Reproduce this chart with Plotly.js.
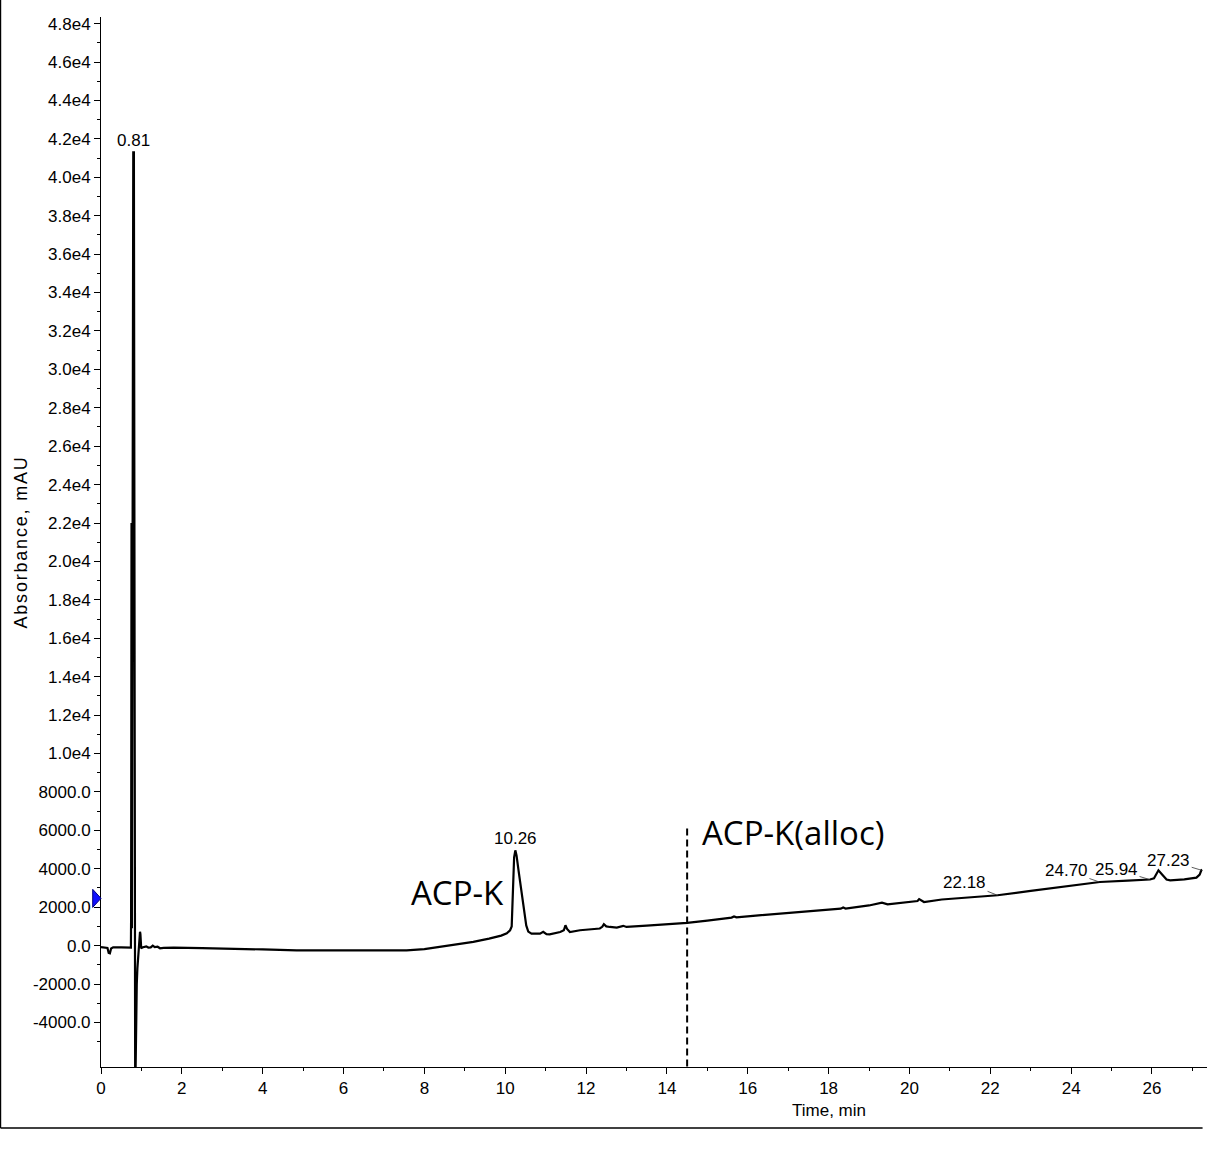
<!DOCTYPE html>
<html>
<head>
<meta charset="utf-8">
<script src="https://cdn.plot.ly/plotly-3.0.1.min.js"></script>
<style>
  html, body { margin: 0; padding: 0; background: #ffffff; }
  #chart { width: 1220px; height: 1156px; }
</style>
</head>
<body>
<div id="chart"></div>
<script>
// Retention time (min)
const timeMin = [
  0.00, 0.10, 0.16, 0.19, 0.22, 0.25, 0.30, 0.50, 0.70, 0.74,
  0.745, 0.755, 0.765, 0.775, 0.79, 0.798, 0.814, 0.818, 0.825, 0.83,
  0.84, 0.845, 0.855, 0.86, 0.865, 0.87, 0.875, 0.885, 0.90, 0.92,
  0.935, 0.95, 0.965, 0.975, 0.985, 0.995, 1.02, 1.06, 1.12, 1.17,
  1.23, 1.28, 1.33, 1.40, 1.46, 1.55, 1.80, 2.50, 3.44, 4.00,
  4.84, 6.00, 7.56, 8.00, 8.39, 8.80, 9.21, 9.60, 9.90, 10.04,
  10.12, 10.16, 10.19, 10.22, 10.25, 10.28, 10.33, 10.40, 10.47, 10.52,
  10.57, 10.65, 10.86, 10.94, 11.02, 11.10, 11.36, 11.45, 11.49, 11.53,
  11.60, 11.85, 12.34, 12.40, 12.44, 12.50, 12.59, 12.76, 12.92, 13.00,
  13.50, 14.00, 14.50, 15.00, 15.32, 15.60, 15.66, 15.72, 16.20, 16.80,
  17.50, 18.30, 18.36, 18.42, 19.00, 19.27, 19.32, 19.46, 19.80, 20.20,
  20.24, 20.36, 20.80, 21.75, 22.18, 23.00, 24.00, 24.71, 25.40, 25.95,
  26.05, 26.16, 26.25, 26.36, 26.45, 26.80, 27.10, 27.18, 27.22, 27.24
];
// Absorbance (mAU)
const absorbance = [
  -80, -90, -120, -380, -400, -150, -90, -90, -90, -100,
  1500, 22000, 900, 21500, 29700, 41300, 41300, 29500, 5000, -200,
  -3500, -6600, -6600, -4800, -3400, -4600, -3300, -2000, -1200, -400,
  -250, 200, 720, 600, 100, -150, -100, -80, -40, -100,
  -90, 0, -80, -60, -140, -120, -110, -130, -160, -200,
  -245, -255, -245, -180, -70, 60, 190, 360, 520, 640,
  800, 1000, 3000, 4600, 4960, 4700, 3900, 2800, 1700, 1050,
  730, 620, 625, 720, 600, 590, 710, 800, 1060, 870,
  710, 800, 890, 980, 1110, 1000, 970, 940, 1030, 970,
  1040, 1110, 1180, 1300, 1400, 1460, 1520, 1470, 1560, 1670,
  1800, 1920, 1980, 1930, 2090, 2200, 2240, 2150, 2230, 2320,
  2420, 2270, 2400, 2570, 2620, 2850, 3120, 3310, 3380, 3440,
  3500, 3920, 3700, 3440, 3400, 3450, 3540, 3700, 3920, 3950
];

// Peak labels (retention times) and the curve level they point at
const peakLabels = ["0.81", "10.26", "22.18", "24.70", "25.94", "27.23"];
const peakTimes  = [0.81, 10.26, 22.18, 24.70, 25.94, 27.23];
const peakLevels = [41300, 4960, 2620, 3310, 3440, 3920];

// Compound labels
const compoundNames = ["ACP-K", "ACP-K(alloc)"];
const compoundTimes = [8.81, 17.13];
const compoundLevels = [2790, 5910];

// Dashed marker for expected ACP-K(alloc) retention time
const allocTime = 14.5;
const allocTop = 6100;

// Blue cursor marker on y axis (level, half-height in mAU)
const cursorLevel = 2460;
const cursorHalf = 470;

// Y ticks
const yTickVals = [-4000, -2000, 0, 2000, 4000, 6000, 8000, 10000, 12000, 14000, 16000, 18000,
  20000, 22000, 24000, 26000, 28000, 30000, 32000, 34000, 36000, 38000, 40000, 42000, 44000, 46000, 48000];
const yTickText = ["-4000.0", "-2000.0", "0.0", "2000.0", "4000.0", "6000.0", "8000.0", "1.0e4", "1.2e4",
  "1.4e4", "1.6e4", "1.8e4", "2.0e4", "2.2e4", "2.4e4", "2.6e4", "2.8e4", "3.0e4", "3.2e4", "3.4e4",
  "3.6e4", "3.8e4", "4.0e4", "4.2e4", "4.4e4", "4.6e4", "4.8e4"];
const yMinorVals = [];
for (let v = -5000; v <= 47000; v += 2000) yMinorVals.push(v);

const yRange = [-6320, 48344];
const xRange = [0, 27.361];

const tickFont = { family: "Liberation Sans, Arial, sans-serif", size: 17, color: "#000" };

const traces = [
  {
    x: timeMin, y: absorbance, type: "scatter", mode: "lines",
    line: { color: "#000000", width: 2.2 },
    hoverinfo: "x+y", showlegend: false
  }
];

const annotations = [];
// apex labels without leader
for (let i = 0; i < 2; i++) {
  annotations.push({
    x: peakTimes[i], y: peakLevels[i], xref: "x", yref: "y",
    text: peakLabels[i], showarrow: false, yanchor: "bottom", xanchor: "center", yshift: 0,
    font: tickFont
  });
}
// labels with leader lines
const leadAx = [-33, -33, -33, -33];
const leadAy = [-13, -11.5, -10, -10];
for (let i = 2; i < peakLabels.length; i++) {
  annotations.push({
    x: peakTimes[i], y: peakLevels[i], xref: "x", yref: "y",
    text: peakLabels[i], showarrow: true, arrowhead: 0, arrowwidth: 0.8, arrowcolor: "#333333",
    ax: leadAx[i - 2], ay: leadAy[i - 2], standoff: 0,
    font: tickFont
  });
}
for (let i = 0; i < compoundNames.length; i++) {
  annotations.push({
    x: compoundTimes[i], y: compoundLevels[i], xref: "x", yref: "y",
    text: compoundNames[i], showarrow: false, xanchor: "center", yanchor: "middle",
    font: { family: "Open Sans, Lato, sans-serif", size: 33, color: "#000" }
  });
}

const shapes = [
  { type: "line", xref: "x", yref: "y", x0: allocTime, x1: allocTime, y0: allocTop, y1: yRange[0],
    line: { color: "#000", width: 2, dash: "7px,4px" } },
  // blue cursor triangle at the y axis
  { type: "path", xref: "paper", yref: "y",
    path: "M -0.0075," + (cursorLevel + cursorHalf) + " L 0," + cursorLevel + " L -0.0075," + (cursorLevel - cursorHalf) + " Z",
    fillcolor: "#1010ff", line: { color: "#000080", width: 1 }, layer: "above" },
  // outer frame (left and bottom)
  { type: "line", xref: "paper", yref: "paper", x0: -0.0909, x1: -0.0909, y0: -0.058, y1: 1.02,
    line: { color: "#000", width: 1.5 } },
  { type: "line", xref: "paper", yref: "paper", x0: -0.0909, x1: 0.996, y0: -0.058, y1: -0.058,
    line: { color: "#000", width: 1.5 } }
];

const layout = {
  width: 1220, height: 1156,
  margin: { l: 101, r: 13, t: 17, b: 89, pad: 0 },
  paper_bgcolor: "#ffffff", plot_bgcolor: "#ffffff",
  showlegend: false,
  font: { family: "Liberation Sans, Arial, sans-serif", size: 17, color: "#000" },
  xaxis: {
    range: xRange, showgrid: false, zeroline: false,
    showline: true, linecolor: "#000", linewidth: 1,
    ticks: "outside", ticklen: 6, tickwidth: 1, tickcolor: "#000",
    tickmode: "linear", tick0: 0, dtick: 2,
    minor: { tickmode: "linear", tick0: 0, dtick: 1, ticks: "outside", ticklen: 3, tickcolor: "#000", showgrid: false },
    tickfont: tickFont,
    title: { text: "Time, min", font: tickFont, standoff: 6 }
  },
  yaxis: {
    range: yRange, showgrid: false, zeroline: false,
    showline: true, linecolor: "#000", linewidth: 1,
    ticks: "outside", ticklen: 6, tickwidth: 1, tickcolor: "#000",
    tickmode: "array", tickvals: yTickVals, ticktext: yTickText,
    minor: { tickmode: "array", tickvals: yMinorVals, ticks: "outside", ticklen: 3, tickcolor: "#000", showgrid: false },
    tickfont: tickFont,
    title: { text: "Absorbance, mAU", font: { family: "Liberation Sans, Arial, sans-serif", size: 18, color: "#000" }, standoff: 0 }
  },
  annotations: annotations,
  shapes: shapes
};

Plotly.newPlot("chart", traces, layout, { displayModeBar: false, staticPlot: true }).then(function () {
  const xt = document.querySelector(".xtitle");
  if (xt) {
    xt.setAttribute("x", 829);
  }
  const yt = document.querySelector(".ytitle");
  if (yt) {
    yt.style.letterSpacing = "1.8px";
  }
});
</script>
</body>
</html>
